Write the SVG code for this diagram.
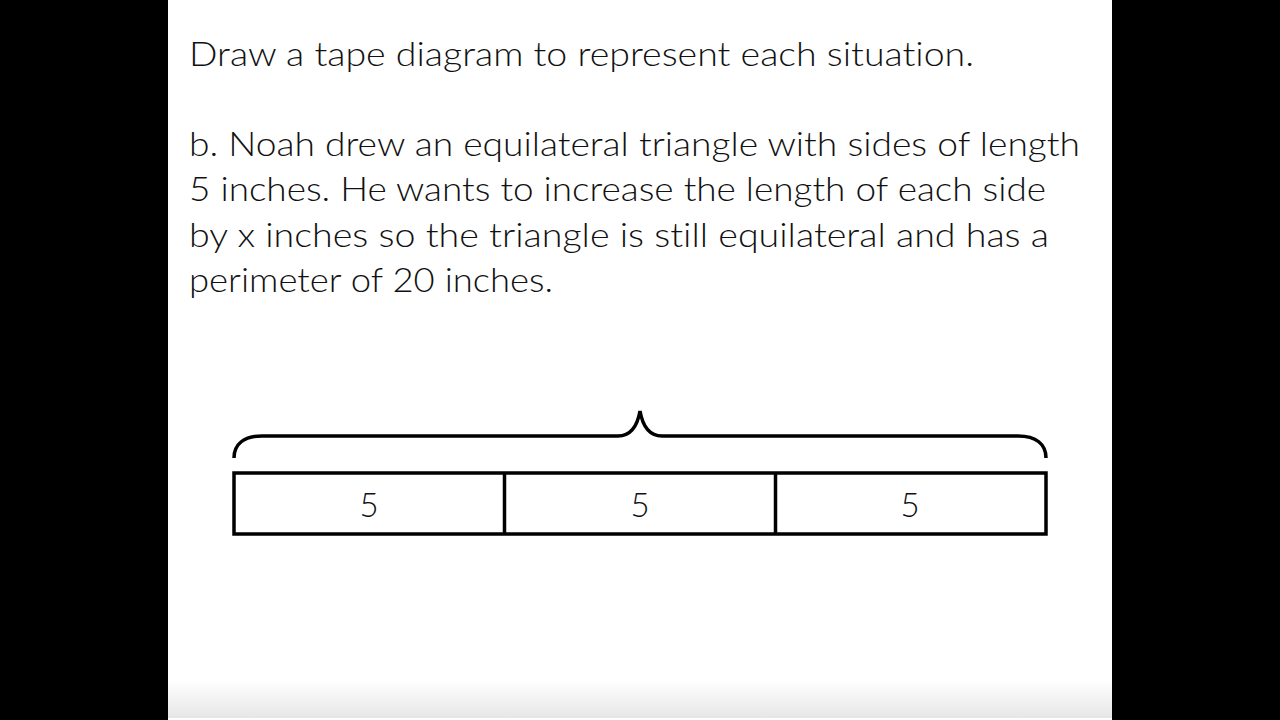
<svg xmlns="http://www.w3.org/2000/svg" width="1280" height="720" viewBox="0 0 1280 720">
<defs>
<linearGradient id="fade" x1="0" y1="0" x2="0" y2="1">
<stop offset="0" stop-color="#ffffff"/>
<stop offset="1" stop-color="#e6e6e6"/>
</linearGradient>
<style>
.t{font-family:"Lato","Open Sans","DejaVu Sans",sans-serif;font-size:33px;font-weight:300;fill:#111;font-variant-ligatures:none}
.n{font-family:"Lato","Open Sans","DejaVu Sans",sans-serif;font-size:33px;font-weight:300;fill:#111;text-anchor:middle}
.ln{fill:none;stroke:#000;stroke-width:3.5}
</style>
</defs>
<rect x="0" y="0" width="1280" height="720" fill="#000"/>
<rect x="168" y="0" width="944" height="720" fill="#fff"/>
<rect x="168" y="680" width="944" height="38" fill="url(#fade)"/>
<g id="text">
<text class="t" x="189" y="66" textLength="785" lengthAdjust="spacingAndGlyphs">Draw a tape diagram to represent each situation.</text>
<text class="t" x="189" y="156" textLength="891" lengthAdjust="spacingAndGlyphs">b. Noah drew an equilateral triangle with sides of length</text>
<text class="t" x="189" y="201" textLength="857" lengthAdjust="spacingAndGlyphs">5 inches. He wants to increase the length of each side</text>
<text class="t" x="189" y="247" textLength="860" lengthAdjust="spacingAndGlyphs">by x inches so the triangle is still equilateral and has a</text>
<text class="t" x="189" y="292" textLength="364" lengthAdjust="spacingAndGlyphs">perimeter of 20 inches.</text>
</g>
<g id="brace">
<path class="ln" d="M234,458 C234,444 244,436 262,436 L618,436 C630,436 637,428 640,411 C643,428 650,436 662,436 L1018,436 C1036,436 1046,444 1046,458"/>
</g>
<g id="tape">
<rect class="ln" x="234" y="473" width="812" height="61"/>
<line class="ln" x1="504.5" y1="473" x2="504.5" y2="534"/>
<line class="ln" x1="775.5" y1="473" x2="775.5" y2="534"/>
</g>
<g id="labels">
<text class="n" x="369" y="517">5</text>
<text class="n" x="640" y="517">5</text>
<text class="n" x="910" y="517">5</text>
</g>
</svg>
